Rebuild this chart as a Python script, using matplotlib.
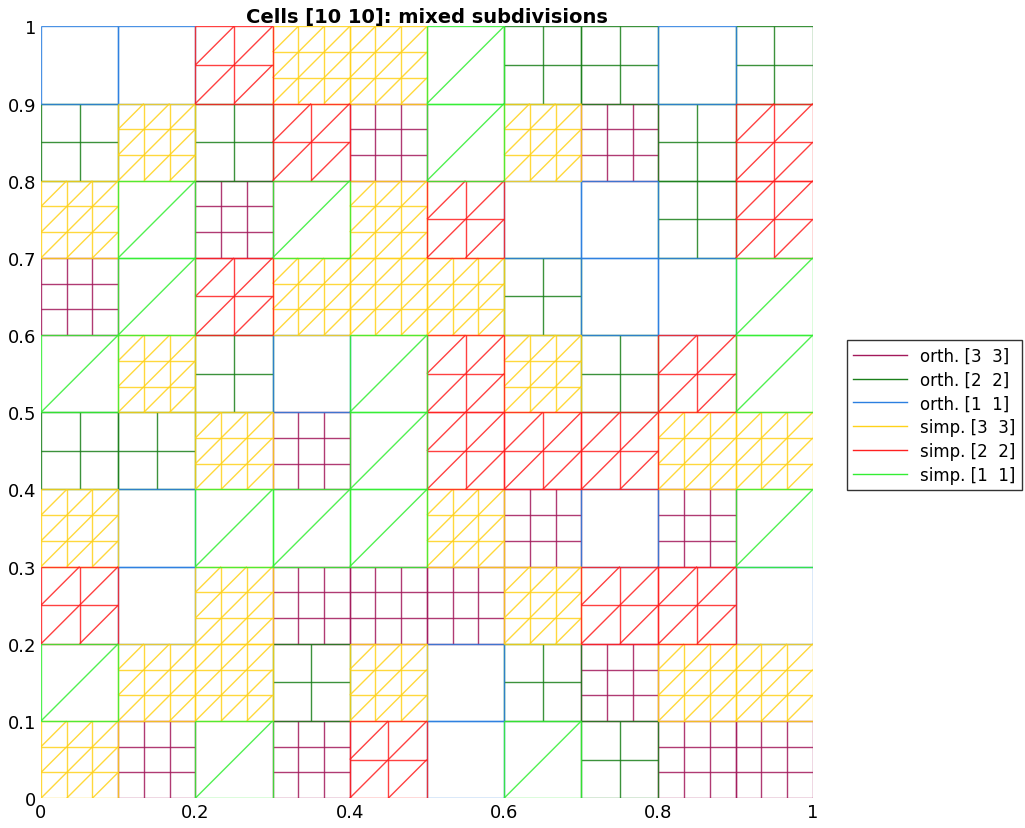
import matplotlib
matplotlib.use('Agg')
import matplotlib.pyplot as plt
from matplotlib.collections import LineCollection
from matplotlib.lines import Line2D

# cell types, rows from top (y=0.9..1) to bottom (y=0..0.1)
# B=orth [1 1], G=orth [2 2], M=orth [3 3], g=simp [1 1], R=simp [2 2], Y=simp [3 3]
rows = [
    "BBRYYgGGBG",
    "GYGRMgYMGR",
    "YgMgYRBBGR",
    "MgRYYYGBBg",
    "gYGBgRYGRg",
    "GGYMgRRRYY",
    "YBgggYMBMg",
    "RBYMMMYRRB",
    "gYYGYBGMYY",
    "YMgMRBgGMM",
]
kinds = {
    'M': ('orth', 3, '#a3195b'),
    'G': ('orth', 2, '#1a7f1a'),
    'B': ('orth', 1, '#2b7fe0'),
    'Y': ('simp', 3, '#ffd21a'),
    'R': ('simp', 2, '#ff2020'),
    'g': ('simp', 1, '#33ee33'),
}
legend_order = ['M', 'G', 'B', 'Y', 'R', 'g']
h = 0.1

fig = plt.figure(figsize=(10.25, 8.29), dpi=100)
ax = fig.add_axes([0.04, 0.036, 0.753, 0.931])

segs = {k: [] for k in kinds}
for r, row in enumerate(rows):
    y0 = 1 - (r + 1) * h
    for c, k in enumerate(row):
        x0 = c * h
        kind, n, col = kinds[k]
        s = h / n
        for i in range(n + 1):
            segs[k].append([(x0 + i * s, y0), (x0 + i * s, y0 + h)])
            segs[k].append([(x0, y0 + i * s), (x0 + h, y0 + i * s)])
        if kind == 'simp':
            for i in range(n):
                for j in range(n):
                    segs[k].append([(x0 + i * s, y0 + j * s), (x0 + (i + 1) * s, y0 + (j + 1) * s)])

for k in kinds:
    ax.add_collection(LineCollection(segs[k], colors=kinds[k][2], linewidths=1.0, alpha=0.85))

ax.set_xlim(0, 1)
ax.set_ylim(0, 1)
for sp in ax.spines.values():
    sp.set_visible(False)
ax.set_xticks([0, 0.2, 0.4, 0.6, 0.8, 1])
ax.set_xticklabels(['0', '0.2', '0.4', '0.6', '0.8', '1'])
ax.set_yticks([i / 10 for i in range(11)])
ax.set_yticklabels(['0'] + ['%.1f' % (i / 10) for i in range(1, 10)] + ['1'])
ax.tick_params(labelsize=13, length=0)
ax.set_title('Cells [10 10]: mixed subdivisions', fontsize=14, fontweight='bold', pad=2)

handles = [Line2D([], [], color=kinds[k][2], lw=1) for k in legend_order]
labels = ['%s. [%d  %d]' % (kinds[k][0], kinds[k][1], kinds[k][1]) for k in legend_order]
fig.legend(handles, labels, loc='center left', bbox_to_anchor=(0.818, 0.498),
           fontsize=12, frameon=True, fancybox=False, edgecolor='black',
           handlelength=3.2, borderpad=0.4, labelspacing=0.35)

fig.savefig('out.png')
